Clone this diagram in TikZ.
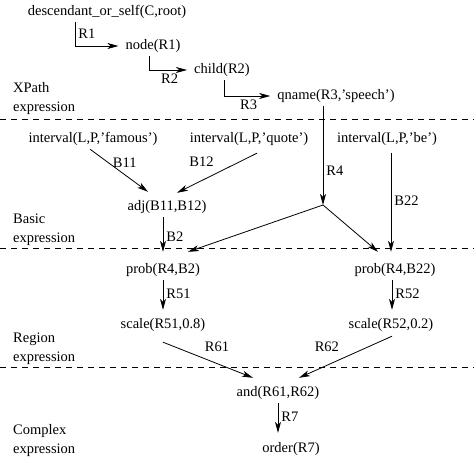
\documentclass[tikz,border=0pt]{standalone}
\usepackage{fontspec}
\setmainfont{Liberation Serif}
\usetikzlibrary{arrows.meta}
\usetikzlibrary{positioning}

\begin{document}
\begin{tikzpicture}[
    x=1pt,y=-1pt,
    font=\fontsize{14.5}{18.5}\selectfont,
    fn/.style={inner sep=3pt,text height=10.5pt,text depth=3.5pt},
    lvl/.style={anchor=west,align=left,inner sep=3pt},
    sep/.style={dash pattern=on 6pt off 5pt,line width=0.7pt},
    arr/.style={line width=0.8pt,-{Stealth[length=11pt,width=6pt,inset=3pt]}},
    elb/.style={arr,shorten >=4pt}
    ]
    \useasboundingbox (0,0) rectangle (474,457);
    % level separators
    \draw [sep] (0,119) -- (474,119);
    \draw [sep] (0,248) -- (474,248);
    \draw [sep] (0,367) -- (474,367);
    \node (lxp) [lvl] at (10,98.5) {XPath\\expression};
    \node (lbs) [lvl] at (10,229.5) {Basic\\expression};
    \node (lrg) [lvl] at (10,348.5) {Region\\expression};
    \node (lcx) [lvl] at (10,440.5) {Complex\\expression};
    % XPath part
    \node (dos) [fn] at (107,12) {descendant\_or\_self(C,root)};
    \node (nr1) [fn] at (153,46) {node(R1)};
    \node (chl) [fn] at (222,70) {child(R2)};
    \node (qnm) [fn] at (336,96) {qname(R3,'speech')};
    % basic part
    \node (ifam) [fn] at (93,139) {interval(L,P,'famous')};
    \node (iquo) [fn] at (249,139) {interval(L,P,'quote')};
    \node (ibe) [fn] at (387,139) {interval(L,P,'be')};
    \node (adj) [fn] at (167,207) {adj(B11,B12)};
    \coordinate (j) at (323,205);
    % region part
    \node (pbl) [fn] at (163,270) {prob(R4,B2)};
    \node (pbr) [fn] at (395,270) {prob(R4,B22)};
    \node (scl) [fn] at (163,325) {scale(R51,0.8)};
    \node (scr) [fn] at (391,325) {scale(R52,0.2)};
    % complex part
    \node (and) [fn] at (278,393) {and(R61,R62)};
    \node (ord) [fn] at (291,449) {order(R7)};
    % arrows
    \draw[elb] ([xshift=-32pt]dos.south) |- (nr1.west) node[fn,pos=0.27,right] {R1};
    \draw[elb] ([xshift=-4pt]nr1.south) |- (chl.west) node[fn,pos=0.745,below] {R2};
    \draw[elb] ([xshift=2pt]chl.south) |- (qnm.west) node[fn,pos=0.745,below] {R3};
    \draw[arr] ([xshift=-13pt]qnm.south) -- (j) node[fn,pos=0.67,right] {R4};
    \draw[arr] ([xshift=-3pt]ifam.south) -- ([xshift=-19pt,yshift=5pt]adj.north) node[fn,pos=0.6,above] {B11};
    \draw[arr] ([xshift=8pt,yshift=-4pt]iquo.south) -- ([xshift=10pt,yshift=4pt]adj.north) node[fn,pos=0.5,above left] {B12};
    \draw[arr] (adj.south -| pbl.north) -- ([yshift=8pt]pbl.north) node[fn,pos=0.6,right] {B2};
    \draw[arr] ([xshift=4pt,yshift=-4pt]ibe.south) -- ([xshift=-4pt,yshift=8pt]pbr.north) node[fn,midway,right] {B22};
    \draw[arr] (j) -- ([xshift=25pt,yshift=8pt]pbl.north);
    \draw[arr] (j) -- ([xshift=-17pt,yshift=8pt]pbr.north);
    \draw[arr] (pbl.south) -- ([yshift=5pt]scl.north) node[fn,midway,right] {R51};
    \draw[arr] ([xshift=-3pt]pbr.south) -- ([xshift=1pt,yshift=5pt]scr.north) node[fn,midway,right] {R52};
    \draw[arr] ([yshift=-7pt]scl.south) -- ([xshift=-25pt,yshift=5pt]and.north) node[fn,pos=0.6,above=5pt] {R61};
    \draw[arr] ([xshift=1pt,yshift=-1pt]scr.south) -- ([xshift=21pt,yshift=5pt]and.north) node[fn,pos=0.7,above=7pt] {R62};
    \draw[arr] (and.south) -- ([yshift=6pt]ord.north -| and.south) node[fn,midway,right] {R7};
\end{tikzpicture}
\end{document}
